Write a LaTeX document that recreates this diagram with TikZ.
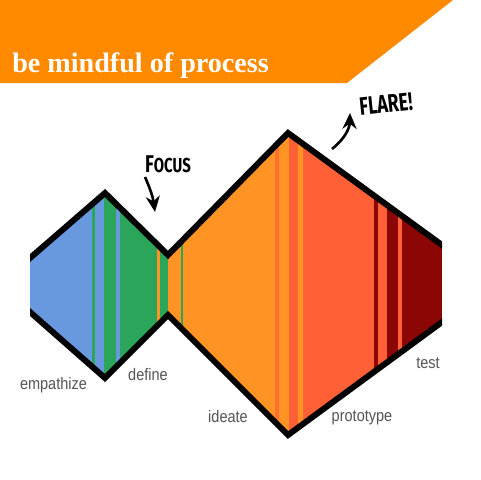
\documentclass[tikz,border=0pt]{standalone}
\usepackage{fontspec}
\usepackage{graphicx}
\setmainfont{Liberation Serif}
\newfontfamily\labelfont{Liberation Sans}
\newfontfamily\handfont{Fira Sans}
\usetikzlibrary{arrows.meta}
\definecolor{banner}{RGB}{255,138,0}
\definecolor{empblue}{RGB}{104,152,222}
\definecolor{defgreen}{RGB}{42,165,90}
\definecolor{ideorange}{RGB}{255,148,37}
\definecolor{protored}{RGB}{255,96,54}
\definecolor{testred}{RGB}{140,6,6}
\definecolor{labelgray}{RGB}{85,85,85}
\newcommand{\squeeze}[1]{\scalebox{0.87}[1]{#1}}
\tikzset{
  stagelabel/.style={text=labelgray,font=\labelfont\fontsize{9.5}{10}\selectfont,inner sep=0pt},
  handnote/.style={font=\handfont\bfseries\fontsize{12}{13}\selectfont,inner sep=0pt},
  handarrow/.style={line width=1.5pt,-{Stealth[length=9pt,width=8pt]}},
  outline/.style={line width=3.4pt,line join=miter}
}
\begin{document}
\begin{tikzpicture}[x=0.02cm,y=-0.02cm]
\fill[white] (0,0) rectangle (480,480);
\useasboundingbox (0,0) rectangle (480,480);

% banner
\fill[banner] (0,0) -- (453,0) -- (347,83) -- (0,83) -- cycle;
\node[anchor=base west,text=white,font=\bfseries\fontsize{16}{18}\selectfont,inner sep=0pt] (title) at (12,72) {be mindful of process};

% colour bands
\begin{scope}
\clip (30,258) -- (105,193) -- (168,255) -- (288,133) -- (442,245) -- (442,322) -- (288,435) -- (168,315) -- (105,378) -- (30,312) -- cycle;
\foreach \a/\b/\c in {30/92/empblue, 92/95/defgreen, 95/104/empblue, 104/116/defgreen,
  116/120/empblue, 120/157/defgreen, 157/160/ideorange, 160/168/defgreen,
  168/181/ideorange, 181/183/defgreen, 183/275/ideorange, 275/279/protored!70!ideorange,
  279/289/ideorange, 289/298/protored, 298/303/ideorange, 303/374/protored,
  374/378/testred, 378/387/protored, 387/398/testred, 398/402/protored, 402/442/testred}
{
  \fill[\c] (\a,120) rectangle (\b,450);
}
\end{scope}

% outline
\begin{scope}
\clip (30,100) rectangle (442,460);
\draw[outline] (20,266.7) -- (105,193) -- (168,255) -- (288,133) -- (452,252.3);
\draw[outline] (20,303.2) -- (105,378) -- (168,315) -- (288,435) -- (452,314.7);
\end{scope}

% stages
\node[stagelabel] (empathize) at (53.5,385) {\squeeze{empathize}};
\node[stagelabel] (define) at (148,375) {\squeeze{define}};
\node[stagelabel] (ideate) at (228,417) {\squeeze{ideate}};
\node[stagelabel] (prototype) at (362,418) {\squeeze{prototype}};
\node[stagelabel] (test) at (428,363) {\squeeze{test}};

% notes
\node[handnote] (focus) at (168,164) {\scalebox{0.85}[1.15]{F{\fontsize{10}{11}\selectfont OCUS}}};
\coordinate (focustail) at (145,177);
\coordinate (focustip) at (155,212);
\draw[handarrow] (focustail) to[bend left=8] (focustip);

\node[handnote,rotate=6] (flare) at (386,104) {\scalebox{0.85}[1.2]{FLARE!}};
\coordinate (flaretail) at (332,149);
\coordinate (flaretip) at (350,113);
\draw[handarrow] (flaretail) to[bend right=25] (flaretip);
\end{tikzpicture}
\end{document}
